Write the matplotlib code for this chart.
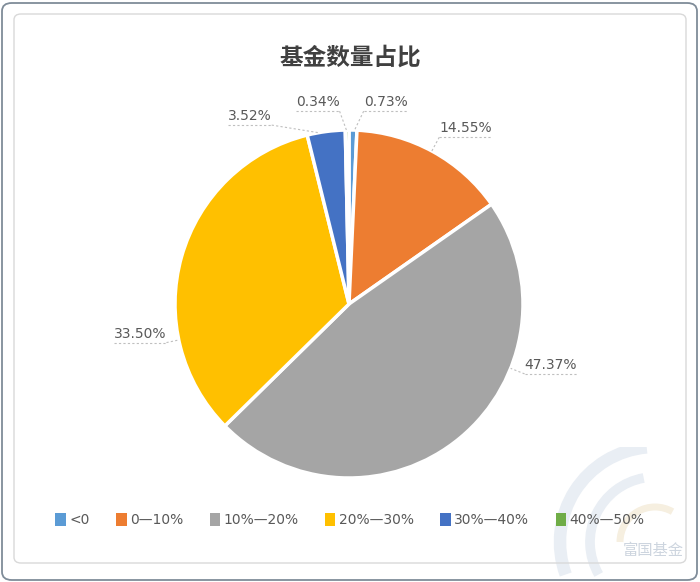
import matplotlib
matplotlib.use("Agg")
from matplotlib import pyplot as plt
from matplotlib.patches import FancyBboxPatch, Arc
import numpy as np

plt.rcParams['font.family'] = ['DejaVu Sans', 'Noto Sans CJK SC']

categories = ["<0", "0—10%", "10%—20%", "20%—30%", "30%—40%", "40%—50%"]
shares = [0.73, 14.55, 47.37, 33.50, 3.52, 0.34]
colors = ["#5B9BD5", "#ED7D31", "#A5A5A5", "#FFC000", "#4472C4", "#70AD47"]

# where Excel put each data label (pie radius = 1)
label_xy = [(0.21, 1.16), (0.67, 1.01), (1.16, -0.35), (-1.20, -0.17),
            (-0.57, 1.08), (-0.18, 1.16)]

fig = plt.figure(figsize=(7, 5.82), dpi=100)

# frames
fig.patches.append(FancyBboxPatch((2 / 700, 2 / 582), 695 / 700, 577 / 582,
                                  boxstyle="round,pad=0,rounding_size=0.014",
                                  transform=fig.transFigure, fill=False,
                                  edgecolor="#7f8c99", linewidth=1.3))
fig.patches.append(FancyBboxPatch((14 / 700, 19 / 582), 672 / 700, 549 / 582,
                                  boxstyle="round,pad=0,rounding_size=0.01",
                                  transform=fig.transFigure, fill=False,
                                  edgecolor="#d9d9d9", linewidth=1.0))

# faint logo watermark, bottom right
wm = fig.add_axes([540 / 700, 0, 160 / 700, 135 / 582])
wm.set_xlim(0, 160)
wm.set_ylim(0, 135)
wm.axis("off")
wm.add_patch(Arc((115, 40), 190, 190, theta1=95, theta2=200, color="#e9eef4", lw=9))
wm.add_patch(Arc((115, 40), 130, 130, theta1=100, theta2=210, color="#e9eef4", lw=7))
wm.add_patch(Arc((115, 40), 70, 70, theta1=60, theta2=180, color="#f6efe0", lw=5))

fig.text(0.5, 1 - 58 / 582, "基金数量占比", ha="center", va="center",
         fontsize=17, fontweight="bold", color="#404040",
         family=['Noto Sans CJK SC', 'DejaVu Sans'])

fig.text(653 / 700, 1 - 550 / 582, "富国基金", ha="center", va="center",
         fontsize=11, color="#cdd5df", family=['Noto Sans CJK SC'])

r_px = 174
cx, cy = 349, 304
ax = fig.add_axes([(cx - r_px) / 700, 1 - (cy + r_px) / 582,
                   2 * r_px / 700, 2 * r_px / 582])
wedges, _ = ax.pie(shares, colors=colors, startangle=90, counterclock=False,
                   wedgeprops=dict(edgecolor="white", linewidth=2.5))
ax.set_xlim(-1, 1)
ax.set_ylim(-1, 1)
ax.set_aspect("equal")

texts = []
for v, (x, y) in zip(shares, label_xy):
    t = ax.text(x, y, f"{v:.2f}%", ha="center", va="center", fontsize=10,
                color="#595959", clip_on=False)
    texts.append(t)

fig.canvas.draw()
renderer = fig.canvas.get_renderer()
inv = ax.transData.inverted()
for t, w, (x, y) in zip(texts, wedges, label_xy):
    bb = t.get_window_extent(renderer)
    (x0, y0), (x1, _) = inv.transform([(bb.x0, bb.y0 - 2), (bb.x1, bb.y1)])
    ax.plot([x0, x1], [y0, y0], ls=(0, (2, 2)), color="#bfbfbf", lw=0.8,
            clip_on=False)
    # leader to the wedge edge
    ex = x0 if abs(x0) < abs(x1) else x1
    phi = np.degrees(np.arctan2(y0, ex))
    t1, t2 = w.theta1, w.theta2
    phi = (phi - t1) % 360 + t1
    if phi > t2:
        phi = t1 + 0.3 * (t2 - t1) if (phi - t2) > (t1 + 360 - phi) else t2 - 0.3 * (t2 - t1)
    tx, ty = np.cos(np.radians(phi)), np.sin(np.radians(phi))
    if np.hypot(ex - tx, y0 - ty) > 0.06:
        ax.plot([ex, tx], [y0, ty], ls=(0, (2, 2)), color="#bfbfbf", lw=0.8,
                clip_on=False)

leg = fig.legend(wedges, categories, loc="center", ncol=6,
                 bbox_to_anchor=(0.5, 1 - 520 / 582), frameon=False,
                 fontsize=10, handlelength=0.75, handleheight=1.1,
                 handletextpad=0.25, columnspacing=1.9)
for txt in leg.get_texts():
    txt.set_color("#595959")
for h in leg.legend_handles:
    h.set_edgecolor("none")

fig.savefig("out.png", dpi=100)
